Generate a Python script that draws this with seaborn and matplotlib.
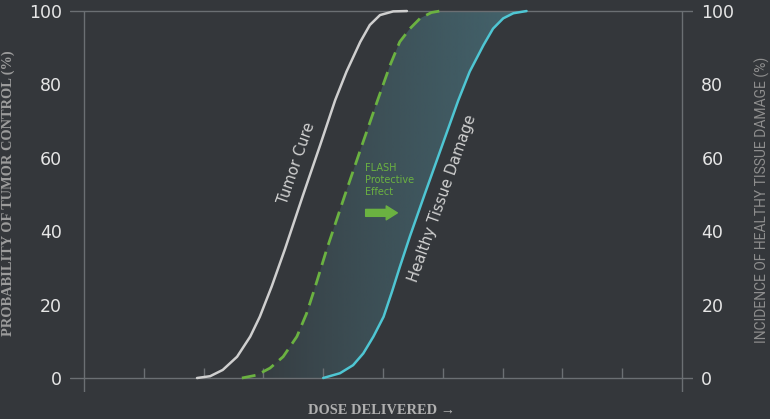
import numpy as np
import pandas as pd
import matplotlib
matplotlib.use("Agg")
import matplotlib.pyplot as plt
import seaborn as sns
from matplotlib.colors import to_rgb

# ---- data ----
dose_tumor = [1.89, 2.11, 2.32, 2.56, 2.78, 2.94, 3.14, 3.36, 3.66, 3.95, 4.20, 4.39,
              4.62, 4.78, 4.95, 5.17, 5.40]
pct_tumor = [0, 0.5, 2.2, 5.8, 11.3, 16.7, 25.0, 35.1, 49.7, 63.5, 75.7, 83.5,
             91.6, 96.2, 98.9, 99.9, 100]

dose_flash = [2.64, 2.89, 3.11, 3.33, 3.56, 3.72, 3.85, 4.06, 4.36, 4.65, 4.91, 5.12,
              5.28, 5.45, 5.62, 5.81, 5.95]
pct_flash = [0, 0.8, 2.7, 5.8, 11.3, 17.5, 24, 35.1, 49.7, 63.5, 75.7, 85.3,
             91.6, 95.2, 98, 99.6, 100]

dose_healthy = [4.00, 4.28, 4.50, 4.67, 4.84, 5.01, 5.15, 5.28, 5.45, 5.70, 5.97, 6.26,
                6.45, 6.68, 6.84, 7.01, 7.18, 7.40]
pct_healthy = [0, 1.3, 3.5, 6.7, 11.3, 16.7, 23.5, 30.2, 38.6, 50.2, 62.5, 75.7,
               83.5, 90.7, 95.2, 98, 99.4, 100]

y_ticks = [0, 20, 40, 60, 80, 100]
x_minor = [1, 2, 3, 4, 5, 6, 7, 8, 9]

BG = "#34373b"
GRID = "#6b6f73"
TUMOR_C = "#cfcfcf"
FLASH_C = "#6bb241"
HEALTHY_C = "#4fc6d3"
TEAL = "#44646d"

sns.set_theme(style="dark", rc={"axes.facecolor": BG, "figure.facecolor": BG})
plt.rcParams["font.family"] = ["DejaVu Sans"]

fig = plt.figure(figsize=(7.7, 4.19), dpi=100)
ax = fig.add_axes([70 / 770, 1 - 392 / 419, (693 - 70) / 770, (392 - 9.2) / 419])
ax.set_facecolor(BG)
for s in ax.spines.values():
    s.set_visible(False)

# frame lines
ax.axhline(0, color=GRID, lw=1.0, zorder=2)
ax.axhline(100, color=GRID, lw=1.0, zorder=2)
ax.vlines([0, 10], -3.81, 100, color=GRID, lw=1.0, zorder=2)
ax.vlines(x_minor, 0, 2.7, color=GRID, lw=1.0, zorder=2)

# gradient band between FLASH curve and healthy-tissue curve
poly_x = np.concatenate([dose_flash, dose_healthy[::-1]])
poly_y = np.concatenate([pct_flash, pct_healthy[::-1]])
poly = ax.fill(poly_x, poly_y, facecolor="none", edgecolor="none")[0]
rgb = to_rgb(TEAL)
n = 256
img = np.zeros((1, n, 4))
img[..., 0], img[..., 1], img[..., 2] = rgb
img[..., 3] = np.linspace(0.0, 1.0, n) ** 0.8
im = ax.imshow(img, extent=[2.6, 7.4, 0, 100], aspect="auto", zorder=1, interpolation="bilinear")
im.set_clip_path(poly)

df_t = pd.DataFrame({"dose": dose_tumor, "pct": pct_tumor})
df_f = pd.DataFrame({"dose": dose_flash, "pct": pct_flash})
df_h = pd.DataFrame({"dose": dose_healthy, "pct": pct_healthy})
sns.lineplot(data=df_t, x="dose", y="pct", ax=ax, color=TUMOR_C, lw=1.8, sort=False, zorder=4)
sns.lineplot(data=df_f, x="dose", y="pct", ax=ax, color=FLASH_C, lw=2.0, sort=False, zorder=4,
             linestyle=(0, (5, 2.6)))
sns.lineplot(data=df_h, x="dose", y="pct", ax=ax, color=HEALTHY_C, lw=1.8, sort=False, zorder=4)

ax.set_xlim(-0.234, 10.184)
ax.set_ylim(-3.81, 100.5)
ax.set_xticks([])
ax.set_yticks(y_ticks)
ax.set_yticklabels([str(v) for v in y_ticks])
ax.tick_params(axis="y", length=0, pad=6, labelsize=12.5, labelcolor="#e6e6e6",
               labelleft=True, labelright=True)
ax.set_xlabel("")
ax.set_ylabel("")
ax.grid(False)

# curve labels
ax.text(3.56, 58.6, "Tumor Cure", rotation=71, ha="center", va="center",
        color="#d2d2d2", fontsize=10.6, zorder=5)
ax.text(5.99, 49.0, "Healthy Tissue Damage", rotation=70.5, ha="center", va="center",
        color="#d2d2d2", fontsize=10.6, zorder=5)
ax.text(4.70, 58.6, "FLASH\nProtective\nEffect", ha="left", va="top", color=FLASH_C,
        fontsize=7.0, linespacing=1.25, zorder=5)
ax.annotate("", xy=(5.24, 45.0), xytext=(4.71, 45.0),
            arrowprops=dict(arrowstyle="simple,head_length=0.8,head_width=1.0,tail_width=0.5",
                            mutation_scale=10, color=FLASH_C, shrinkA=0, shrinkB=0), zorder=5)

# axis titles
fig.text(382 / 770, 1 - 410 / 419, "DOSE DELIVERED \u2192", ha="center", va="center",
         color="#b0b0b0", fontsize=10.4, fontweight="bold",
         family=["Liberation Serif", "DejaVu Serif"])
fig.text(8 / 770, 1 - 193 / 419, "PROBABILITY OF TUMOR CONTROL (%)", rotation=90,
         ha="center", va="center", color="#9c9c9c", fontsize=10.4, fontweight="bold",
         family=["Liberation Serif", "DejaVu Serif"])
fig.text(762 / 770, 1 - 200 / 419, "INCIDENCE OF HEALTHY TISSUE DAMAGE (%)", rotation=90,
         ha="center", va="center", color="#8e8e8e", fontsize=10,
         family=["Roboto", "DejaVu Sans"])

fig.savefig("out.png", dpi=100, facecolor=BG)
